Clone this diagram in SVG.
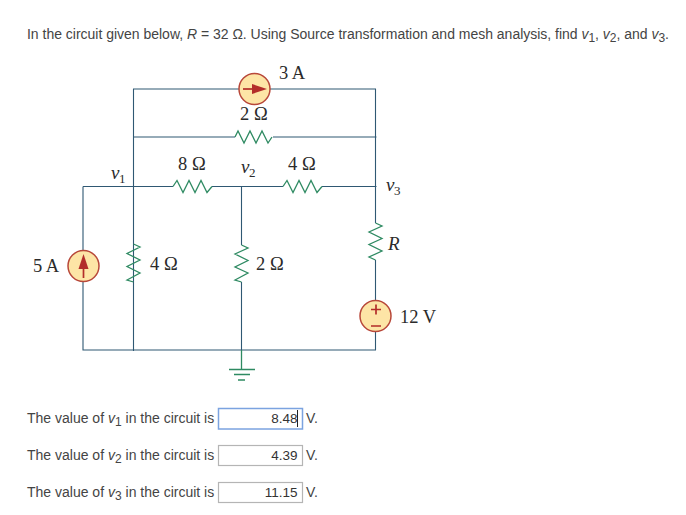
<svg xmlns="http://www.w3.org/2000/svg" width="686" height="515" viewBox="0 0 686 515">
<style>
.w{fill:none;stroke:#2f5873;stroke-width:1.1}
.r{fill:none;stroke:#2e8a62;stroke-width:1.3}
.s{fill:#fde5a6;stroke:#b8483a;stroke-width:1.5}
.a{fill:none;stroke:#b32d2a;stroke-width:1.7}
.af{fill:#b32d2a}
.c{font-family:"Liberation Serif",serif;font-size:18.5px;fill:#2b2b2b}
.v{font-family:"Liberation Serif",serif;font-size:19px;font-style:italic;fill:#2b2b2b}
.vs{font-family:"Liberation Serif",serif;font-size:13px;fill:#2b2b2b}
.t{font-family:"Liberation Sans",sans-serif;font-size:14px;fill:#444}
.n{font-family:"Liberation Sans",sans-serif;font-size:13.500px;fill:#333;text-anchor:end}
.b{fill:#fff;stroke:#b5b5b5;stroke-width:1.2}
</style>
<rect width="686" height="515" fill="#fff"/>
<text class="t" x="27" y="39" textLength="642">In the circuit given below, <tspan font-style="italic">R</tspan> = 32 Ω. Using Source transformation and mesh analysis, find <tspan font-style="italic">v</tspan><tspan font-size="12" dy="3">1</tspan><tspan dy="-3">, </tspan><tspan font-style="italic">v</tspan><tspan font-size="12" dy="3">2</tspan><tspan dy="-3">, and </tspan><tspan font-style="italic">v</tspan><tspan font-size="12" dy="3">3</tspan><tspan dy="-3">.</tspan></text>
<g id="connectors">
<path class="w" d="M240 89H133.500V350M270 89H375.500V223M133.500 137H235M273 137H376.500M83 186.500H173M212 186.500H283M322 186.500H376.500M83 251V186.500M83 281V350H375.500V331M133.500 186.500V244M133.500 282V351M241.500 186.500V245M241.500 282V350M375.500 260V301"/>
</g>
<g id="source-3a"><circle class="s" cx="254.500" cy="89" r="15.500"/><path class="a" d="M243 89H258"/><path class="af" d="M252 84L267 89L252 94Z"/><text class="c" x="279" y="79">3 A</text></g>
<g id="resistor-2a"><path class="r" d="M235 137L238 131L244 143L250 131L256 143L262 131L268 143L272 137"/><text class="c" x="240" y="120">2 Ω</text></g>
<g id="resistor-8"><path class="r" d="M173 186.500L177 180.500L183 192.500L189 180.500L195 192.500L201 180.500L207 192.500L212 186.500"/><text class="c" x="178" y="170">8 Ω</text></g>
<g id="resistor-4a"><path class="r" d="M283 186.500L287 180.500L293 192.500L299 180.500L305 192.500L311 180.500L317 192.500L322 186.500"/><text class="c" x="288" y="170">4 Ω</text></g>
<g id="node-v1"><text class="v" x="111" y="179">v</text><text class="vs" x="119" y="183">1</text></g>
<g id="node-v2"><text class="v" x="241" y="173">v</text><text class="vs" x="249" y="177">2</text></g>
<g id="node-v3"><text class="v" x="386" y="191">v</text><text class="vs" x="394" y="195">3</text></g>
<g id="source-5a"><circle class="s" cx="83.500" cy="266" r="15.500"/><path class="a" d="M83.500 278V264"/><path class="af" d="M78.500 269L83.500 254L88.500 269Z"/><text class="c" x="33" y="272">5 A</text></g>
<g id="resistor-4b"><path class="r" d="M133.500 244L140 247L127 253.500L140 260L127 266.500L140 273L127 280L133.500 282"/><text class="c" x="150" y="270">4 Ω</text></g>
<g id="resistor-2b"><path class="r" d="M241.500 245L248 248L235 254L248 260.500L235 267L248 273L235 280L241.500 282"/><text class="c" x="256" y="270">2 Ω</text></g>
<g id="resistor-r"><path class="r" d="M375.500 223L382 226L369 232L382 238.500L369 244.500L382 251L369 257L375.500 260"/><text class="v" x="388" y="250">R</text></g>
<g id="source-12v"><circle class="s" cx="375.500" cy="316" r="15.500"/><path class="a" d="M371 309.500H381M376 304.500V314.500M371 326H381"/><text class="c" x="400" y="323">12 V</text></g>
<g id="ground"><path class="r" d="M241.500 350V369.500M229 369.500H255M234 374.500H250M238 380H245"/></g>
<text class="t" x="27" y="423">The value of <tspan font-style="italic">v</tspan><tspan font-size="12" dy="3">1</tspan><tspan dy="-3"> in the circuit is</tspan></text>
<rect x="218.500" y="408.500" width="84" height="20.500" fill="#fff" stroke="#7ba3e0" stroke-width="1.500"/>
<text class="n" x="297.500" y="423">8.48</text><path d="M297.500 410V427" stroke="#222" stroke-width="1"/>
<text class="t" x="306" y="423">V.</text>
<text class="t" x="27" y="460">The value of <tspan font-style="italic">v</tspan><tspan font-size="12" dy="3">2</tspan><tspan dy="-3"> in the circuit is</tspan></text>
<rect class="b" x="218.500" y="445.500" width="84" height="20"/>
<text class="n" x="297.500" y="460">4.39</text>
<text class="t" x="306" y="460">V.</text>
<text class="t" x="27" y="497">The value of <tspan font-style="italic">v</tspan><tspan font-size="12" dy="3">3</tspan><tspan dy="-3"> in the circuit is</tspan></text>
<rect class="b" x="218.500" y="482.500" width="84" height="20"/>
<text class="n" x="297.500" y="497">11.15</text>
<text class="t" x="306" y="497">V.</text>
</svg>
